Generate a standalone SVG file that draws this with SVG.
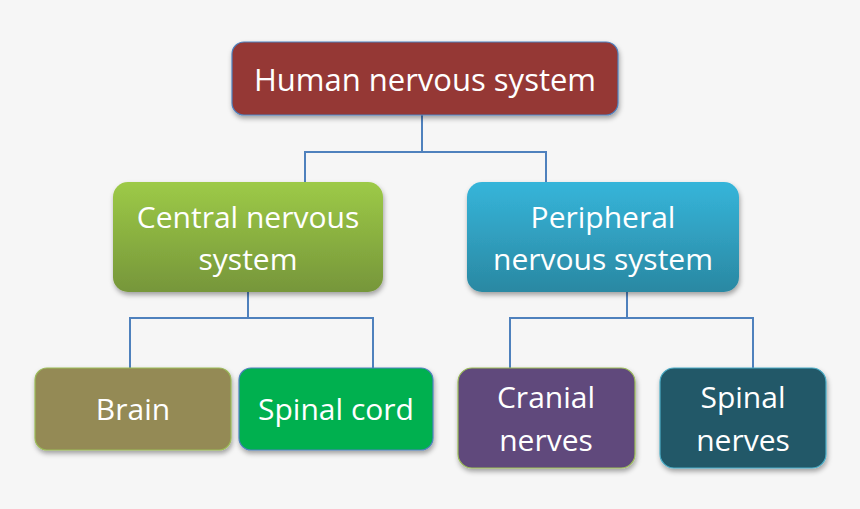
<svg xmlns="http://www.w3.org/2000/svg" width="860" height="509" viewBox="0 0 860 509">
<defs>
<style>
text{font-family:"Open Sans","Noto Sans","Liberation Sans",sans-serif;fill:#fff;text-anchor:middle;font-size:30px}
.conn{fill:none;stroke:#4f81bd;stroke-width:2}
</style>
<filter id="sh" x="-10%" y="-10%" width="120%" height="130%">
<feDropShadow dx="1" dy="3" stdDeviation="2.5" flood-color="#000" flood-opacity="0.35"/>
</filter>
<linearGradient id="gG" x1="0" y1="0" x2="0" y2="1"><stop offset="0" stop-color="#9dca47"/><stop offset="1" stop-color="#76963a"/></linearGradient>
<linearGradient id="gB" x1="0" y1="0" x2="0" y2="1"><stop offset="0" stop-color="#36b5da"/><stop offset="1" stop-color="#2a88a2"/></linearGradient>
</defs>
<rect width="860" height="509" fill="#f6f6f6"/>
<g id="connectors">
<path class="conn" d="M422 115V152M305 182V152H546V182"/>
<path class="conn" d="M248 292V318M130 368V318H373V368"/>
<path class="conn" d="M627 292V318M510 368V318H753V368"/>
</g>
<g id="human">
<rect x="232" y="42" width="386" height="73" rx="12" fill="#953735" stroke="#4f81bd" stroke-width="1.2" filter="url(#sh)"/>
<text x="425" y="91" style="font-size:31px">Human nervous system</text>
</g>
<g id="central">
<rect x="113" y="182" width="270" height="110" rx="15" fill="url(#gG)" filter="url(#sh)"/>
<text x="248" y="228">Central nervous</text>
<text x="248" y="270">system</text>
</g>
<g id="peripheral">
<rect x="467" y="182" width="272" height="110" rx="15" fill="url(#gB)" filter="url(#sh)"/>
<text x="603" y="228">Peripheral</text>
<text x="603" y="270">nervous system</text>
</g>
<g id="brain">
<rect x="35" y="368" width="196" height="82" rx="12" fill="#948a54" stroke="#9bbb59" stroke-width="1.2" filter="url(#sh)"/>
<text x="133" y="420">Brain</text>
</g>
<g id="spinalcord">
<rect x="239" y="368" width="194" height="82" rx="12" fill="#00b050" stroke="#4f81bd" stroke-width="1.2" filter="url(#sh)"/>
<text x="336" y="420">Spinal cord</text>
</g>
<g id="cranial">
<rect x="458" y="368" width="177" height="100" rx="14" fill="#604a7b" stroke="#9bbb59" stroke-width="1.2" filter="url(#sh)"/>
<text x="546" y="408">Cranial</text>
<text x="546" y="451">nerves</text>
</g>
<g id="spinalnerves">
<rect x="660" y="368" width="166" height="100" rx="14" fill="#215968" stroke="#4bacc6" stroke-width="1.2" filter="url(#sh)"/>
<text x="743" y="408">Spinal</text>
<text x="743" y="451">nerves</text>
</g>
</svg>
